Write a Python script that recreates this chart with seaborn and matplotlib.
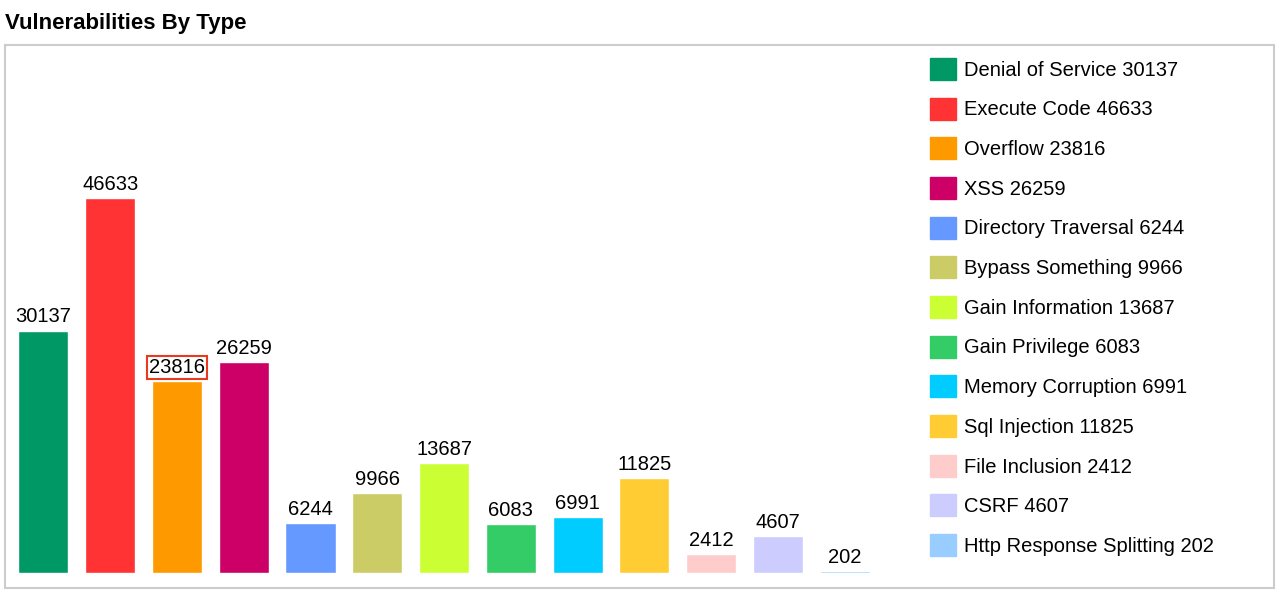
import matplotlib
matplotlib.use("Agg")
import matplotlib.pyplot as plt
import seaborn as sns
import pandas as pd
from matplotlib.patches import Patch, Rectangle

categories = ["Denial of Service", "Execute Code", "Overflow", "XSS", "Directory Traversal",
              "Bypass Something", "Gain Information", "Gain Privilege", "Memory Corruption",
              "Sql Injection", "File Inclusion", "CSRF", "Http Response Splitting"]
values = [30137, 46633, 23816, 26259, 6244, 9966, 13687, 6083, 6991, 11825, 2412, 4607, 202]
colors = ["#009966", "#ff3333", "#ff9900", "#cc0066", "#6699ff", "#cccc66", "#ccff33",
          "#33cc66", "#00ccff", "#ffcc33", "#ffcccc", "#ccccff", "#99ccff"]

sns.set_style("white")
plt.rcParams['font.family'] = ['Liberation Sans', 'DejaVu Sans']
plt.rcParams['text.color'] = 'black'
W, H = 1280, 595
fig = plt.figure(figsize=(W/100, H/100), dpi=100)

fig.patches.append(Rectangle((5/W, 1-588/H), 1269/W, 543/H, transform=fig.transFigure,
                             fill=False, edgecolor="#cccccc", lw=1.5))
fig.text(5/W, 1-24/H, "Vulnerabilities By Type", fontsize=16, fontweight="bold",
         va="center", color="black")

ax = fig.add_axes([10/W, 1-573/H, 868/W, 523/H])
df = pd.DataFrame({"cat": categories, "val": values})
sns.barplot(data=df, x="cat", y="val", hue="cat", palette=colors, width=0.75,
            legend=False, ax=ax, saturation=1)
ax.set_ylim(0, 65000)
ax.set_xlim(-0.5, len(values) - 0.5)
ax.axis("off")
for i, v in enumerate(values):
    t = ax.text(i, v + 500, str(v), ha="center", va="bottom", fontsize=14.5, color="black")
    if v == 23816:
        t.set_bbox(dict(facecolor="none", edgecolor="#e83a1f", lw=1.5, pad=1.5))

handles = [Patch(color=c) for c in colors]
labels = [f"{c} {v}" for c, v in zip(categories, values)]
fig.legend(handles, labels, loc="upper left", bbox_to_anchor=(922/W, 1-50/H),
           frameon=False, fontsize=14.5, handlelength=1.3, handleheight=1.3,
           labelspacing=0.88, handletextpad=0.4, borderaxespad=0, labelcolor="black")
fig.savefig("out.png", dpi=100)
